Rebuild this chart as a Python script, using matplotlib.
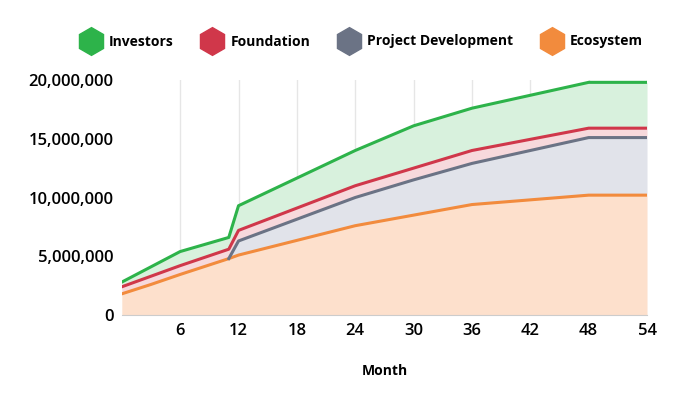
import matplotlib
matplotlib.use("Agg")
import matplotlib.pyplot as plt
import numpy as np
from matplotlib.lines import Line2D

months = [0, 3, 6, 11, 12, 24, 30, 36, 48, 54]
ecosystem = [1.8, 2.6, 3.45, 4.8, 5.1, 7.6, 8.5, 9.4, 10.2, 10.2]
project_dev = [0, 0, 0, 0, 1.2, 2.4, 3.0, 3.5, 4.9, 4.9]
foundation = [0.6, 0.7, 0.75, 0.8, 0.9, 1.0, 1.0, 1.1, 0.8, 0.8]
investors = [0.4, 0.8, 1.2, 1.0, 2.1, 3.0, 3.6, 3.6, 3.9, 3.9]
names = ["Investors", "Foundation", "Project Development", "Ecosystem"]
colors = ["#2db34a", "#d0374a", "#6b7385", "#f28b3d"]
fills = ["#d8f1dd", "#f7d9dc", "#e1e3ea", "#fde0cc"]

plt.rcParams["font.family"] = "Open Sans"
fig = plt.figure(figsize=(6.92, 4.0), dpi=100)
ax = fig.add_axes([0.176, 0.2125, 0.759, 0.5875])
x = np.array(months, dtype=float)
series = [ecosystem, project_dev, foundation, investors]
cols = colors[::-1]; fcs = fills[::-1]
base = np.zeros(len(x))
tops = []
for s, c, f in zip(series, cols, fcs):
    top = base + np.array(s) * 1e6
    ax.fill_between(x, base, top, color=f, lw=0)
    tops.append(top)
    base = top
for i, (top, c) in enumerate(zip(tops, cols)):
    if i == 1:
        nz = np.nonzero(np.array(project_dev))[0][0] - 1
        ax.plot(x[nz:], top[nz:], color=c, lw=2.2)
    else:
        ax.plot(x, top, color=c, lw=2.2)

ax.set_xlim(0, 54)
ax.set_ylim(0, 20e6)
ax.set_xticks([6, 12, 18, 24, 30, 36, 42, 48, 54])
ax.set_yticks([0, 5e6, 10e6, 15e6, 20e6])
ax.set_yticklabels(["0", "5,000,000", "10,000,000", "15,000,000", "20,000,000"])
ax.tick_params(labelsize=12, length=0, pad=6)
for lab in ax.get_xticklabels() + ax.get_yticklabels():
    lab.set_fontweight("semibold")
ax.grid(axis="x", color="#e6e6e6", lw=1)
ax.set_axisbelow(True)
for sp in ["top", "right", "left"]:
    ax.spines[sp].set_visible(False)
ax.spines["bottom"].set_color("#cccccc")
ax.set_xlabel("Month", fontsize=10, fontweight="bold", labelpad=18)

handles = [Line2D([], [], marker="h", ls="", markersize=20, color=c) for c in colors]
fig.legend(handles, names, loc="upper center", bbox_to_anchor=(0.52, 0.945), ncol=4,
           frameon=False, prop={"weight": "bold", "size": 10},
           handletextpad=0.3, columnspacing=1.8)
fig.savefig("out.png", dpi=100)
